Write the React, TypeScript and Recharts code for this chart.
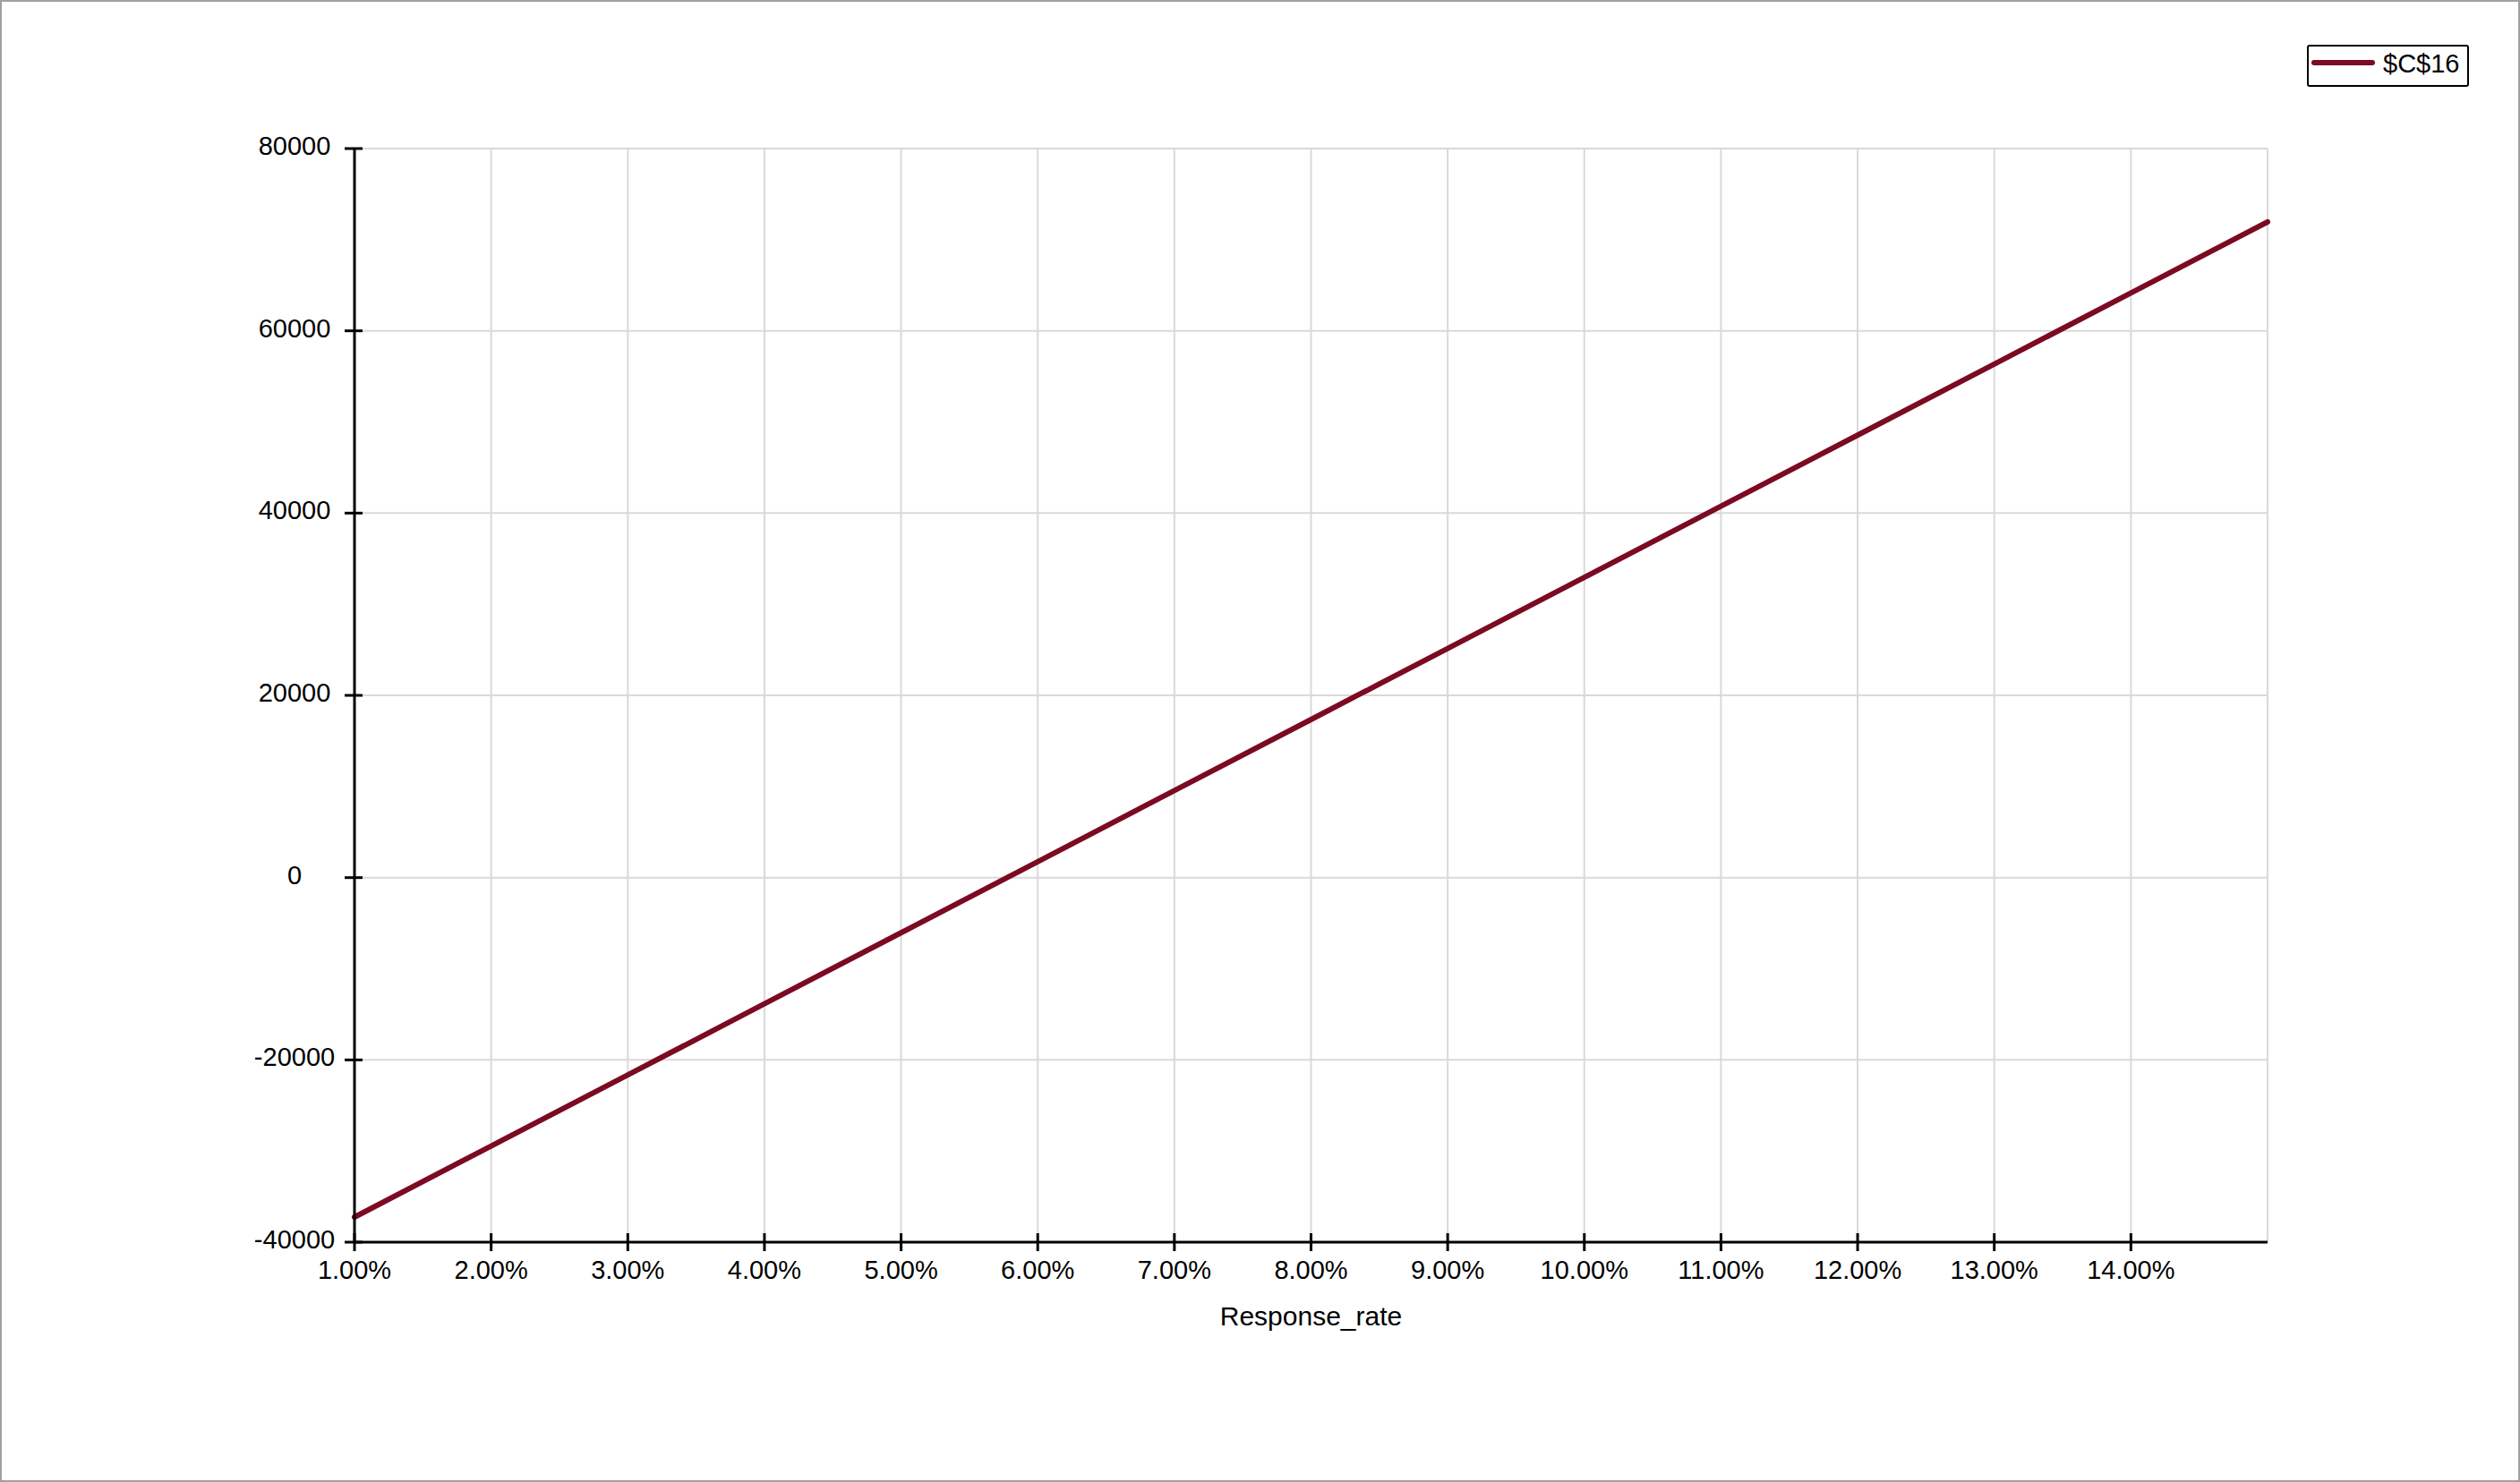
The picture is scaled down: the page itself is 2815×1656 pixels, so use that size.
import { LineChart, Line, XAxis, YAxis, CartesianGrid, Legend, ReferenceLine } from "recharts";

// Response rate vs. result ($C$16).
const RATES = [0.01, 0.02, 0.03, 0.04, 0.05, 0.06, 0.07, 0.08, 0.09, 0.1, 0.11, 0.12, 0.13, 0.14, 0.15];
const VALUES = [-37250, -29450, -21650, -13850, -6050, 1750, 9550, 17350, 25150, 32950, 40750, 48550, 56350, 64150, 71950];
const X_TICKS = [0.01, 0.02, 0.03, 0.04, 0.05, 0.06, 0.07, 0.08, 0.09, 0.1, 0.11, 0.12, 0.13, 0.14];
const Y_TICKS = [-40000, -20000, 0, 20000, 40000, 60000, 80000];
const SERIES_NAME = "$C$16";

const FONT = 'Arial, "Liberation Sans", sans-serif';
const LINE_COLOR = "#7b0a22";
const GRID_COLOR = "#d9d9d9";

const data = RATES.map((r, i) => ({ rate: r, value: VALUES[i] }));

function YTick(props: any) {
  const { x, y, payload } = props;
  const axisX = x + 11; // tickSize 11, tickMargin 0
  return (
    <g>
      <line x1={axisX - 11} x2={axisX + 9} y1={y} y2={y} stroke="#000" strokeWidth={3} />
      <text x={axisX - 67} y={y + 7} textAnchor="middle" fontSize={29} fontFamily={FONT} fill="#000">
        {payload.value}
      </text>
    </g>
  );
}

function XTick(props: any) {
  const { x, y, payload } = props;
  const axisY = y - 10; // tickSize 10, tickMargin 0
  return (
    <g>
      <line x1={x} x2={x} y1={axisY - 10} y2={axisY + 10} stroke="#000" strokeWidth={3} />
      <text x={x} y={axisY + 41} textAnchor="middle" fontSize={29} fontFamily={FONT} fill="#000">
        {(payload.value * 100).toFixed(2) + "%"}
      </text>
    </g>
  );
}

function LegendBox({ payload }: any) {
  const item = payload && payload[0];
  return (
    <div
      style={{
        width: 181,
        height: 47,
        boxSizing: "border-box",
        border: "2px solid #000",
        borderRadius: 3,
        background: "#fff",
      }}
    >
      <svg width={177} height={43} style={{ display: "block" }}>
        <line x1={6} x2={71} y1={18} y2={18} stroke={item?.color ?? LINE_COLOR} strokeWidth={6} strokeLinecap="round" />
        <text x={83} y={29} fontSize={29} fontFamily={FONT} fill="#000">
          {item?.value ?? SERIES_NAME}
        </text>
      </svg>
    </div>
  );
}

export default function App() {
  return (
    <div style={{ position: "relative", width: 2815, height: 1656, background: "#fff" }}>
      <style>{"body{margin:0}"}</style>
      <LineChart
        width={2815}
        height={1656}
        data={data}
        margin={{ top: 166, right: 282, bottom: 158, left: 296 }}
      >
        <CartesianGrid stroke={GRID_COLOR} strokeWidth={2} />
        <ReferenceLine x={0.15} stroke={GRID_COLOR} strokeWidth={2} />
        <XAxis
          dataKey="rate"
          type="number"
          domain={[0.01, 0.15]}
          ticks={X_TICKS}
          height={110}
          tickSize={10}
          tickMargin={0}
          tickLine={false}
          tick={<XTick />}
          axisLine={{ stroke: "#000", strokeWidth: 3 }}
          interval={0}
          label={{
            content: (p: any) => {
              const vb = p.viewBox;
              return (
                <text
                  x={vb.x + vb.width / 2}
                  y={vb.y + 93}
                  textAnchor="middle"
                  fontSize={30}
                  fontFamily={FONT}
                  fill="#000"
                >
                  Response_rate
                </text>
              );
            },
          }}
        />
        <YAxis
          type="number"
          domain={[-40000, 80000]}
          ticks={Y_TICKS}
          width={100}
          tickSize={11}
          tickMargin={0}
          tickLine={false}
          tick={<YTick />}
          axisLine={{ stroke: "#000", strokeWidth: 3 }}
          interval={0}
        />
        <Legend
          layout="horizontal"
          verticalAlign="middle"
          align="center"
          content={<LegendBox />}
          wrapperStyle={{ left: 2577, top: 50, width: "auto", height: "auto" }}
        />
        <Line
          type="linear"
          dataKey="value"
          name={SERIES_NAME}
          stroke={LINE_COLOR}
          strokeWidth={6}
          strokeLinecap="round"
          dot={false}
          activeDot={false}
          isAnimationActive={false}
        />
      </LineChart>
      <div
        style={{
          position: "absolute",
          inset: 0,
          border: "2px solid #a0a0a0",
          pointerEvents: "none",
        }}
      />
    </div>
  );
}
